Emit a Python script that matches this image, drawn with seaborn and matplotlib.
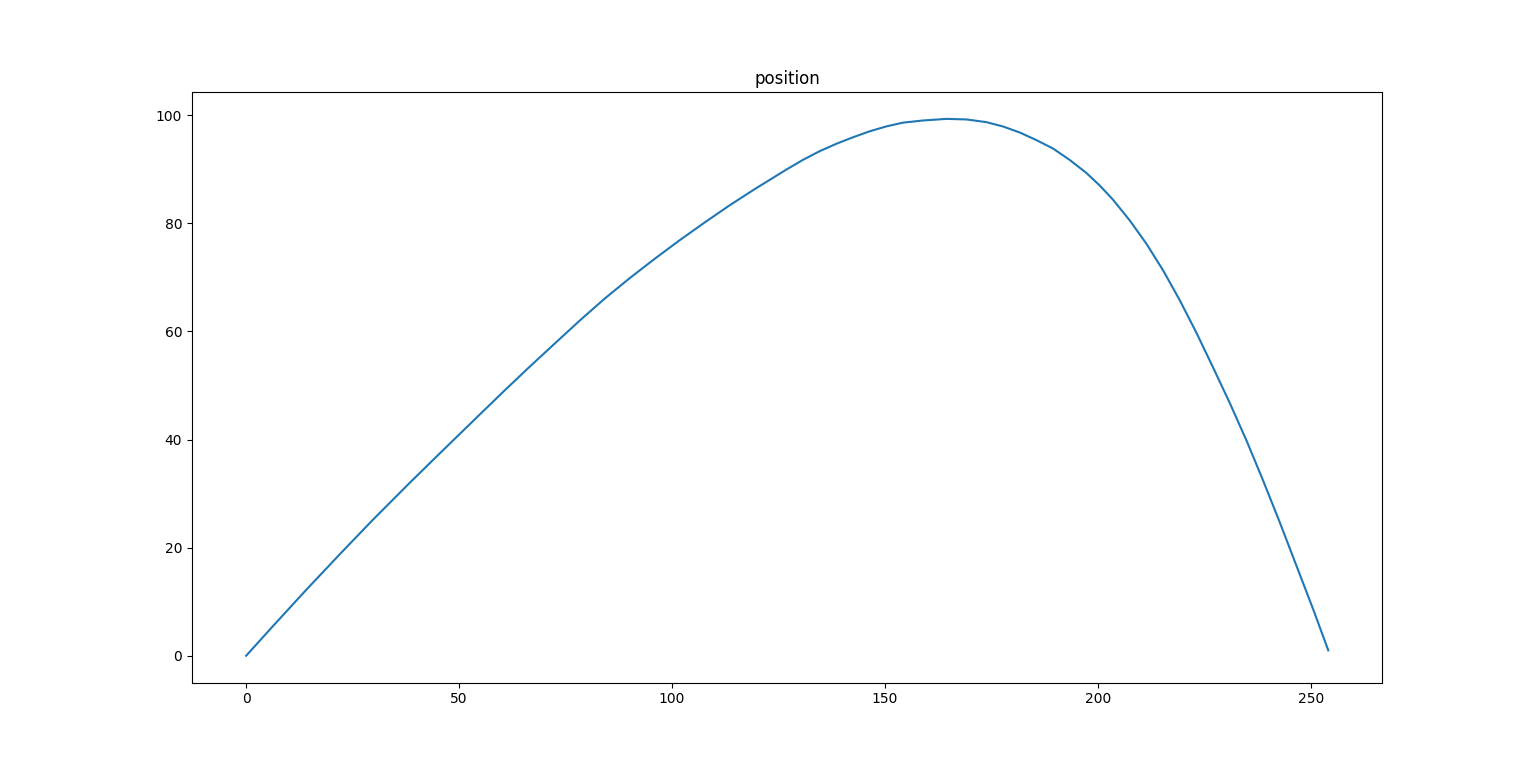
import pandas as pd
import seaborn as sns
import matplotlib
matplotlib.use('Agg')
import matplotlib.pyplot as plt

# values
x_pos = [0, 6.2, 14.0, 21.9, 29.7, 38.3, 45.3, 50.0, 54.7, 60.6, 66.5, 72.4,
         78.2, 84.1, 90.0, 95.9, 101.7, 107.6, 113.5, 119.4, 122.9, 126.8,
         130.7, 134.6, 138.6, 142.5, 146.4, 150.3, 154.2, 158.9, 164.4, 169.1,
         173.8, 177.7, 181.6, 185.5, 189.5, 193.4, 197.3, 200.4, 203.5, 207.5,
         211.4, 215.3, 219.2, 223.1, 227.0, 231.0, 234.9, 238.8, 242.7, 246.6,
         250.6, 254.1]
y_pos = [0, 5.4, 12.1, 18.7, 25.1, 31.9, 37.3, 40.9, 44.5, 49.0, 53.4, 57.7,
         61.9, 66.0, 69.8, 73.4, 76.8, 80.1, 83.3, 86.3, 88.0, 89.9,
         91.7, 93.3, 94.7, 95.9, 97.0, 97.9, 98.6, 99.0, 99.3, 99.2,
         98.7, 97.9, 96.8, 95.4, 93.8, 91.7, 89.3, 87.0, 84.4, 80.5,
         76.2, 71.3, 65.8, 59.8, 53.4, 46.7, 39.8, 32.4, 24.7, 16.7,
         8.5, 1.0]

df = pd.DataFrame({'x': x_pos, 'y': y_pos})

fig, ax = plt.subplots(figsize=(15.36, 7.67), dpi=100)
sns.lineplot(data=df, x='x', y='y', ax=ax, color='#1f77b4', sort=False)
ax.set_title("position")
ax.set_xlabel("")
ax.set_ylabel("")
plt.savefig('out.png', dpi=100)
